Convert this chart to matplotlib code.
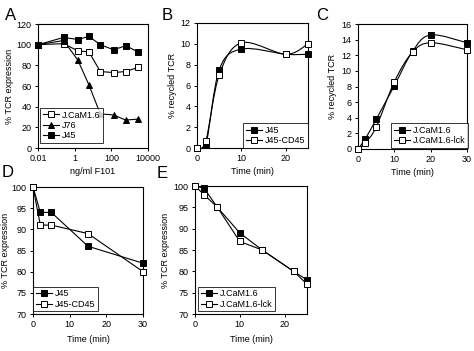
import matplotlib
matplotlib.use("Agg")
import matplotlib.pyplot as plt
import numpy as np
from matplotlib.path import Path
from matplotlib.patches import PathPatch
from matplotlib.lines import Line2D

plt.rcParams['font.family'] = ['Liberation Sans', 'DejaVu Sans']
plt.rcParams['font.size'] = 6.5

# ---------------- data ----------------
# Panel A
a_x = [0.01, 0.25, 1.5, 6, 25, 135, 600, 2900]
a_jcam = [100, 101, 94, 93, 74, 73, 74, 78]
a_j76 = [100, 104, 85, 61, 33, 32, 27, 28]
a_j45 = [100, 107, 105, 108, 100, 95, 99, 93]
a_xticks = [0.01, 1, 100, 10000]
a_xticklabels = ["0.01", "1", "100", "10000"]

# Panel B
b_x = [0, 2, 5, 10, 20, 25]
b_j45 = [0, 0.3, 7.5, 9.5, 9.0, 9.0]
b_j45cd45 = [0, 0.7, 7.0, 10.1, 9.0, 10.0]

# Panel C
c_x = [0, 2, 5, 10, 15, 20, 30]
c_jcam = [0, 1.3, 3.8, 8.1, 12.5, 14.6, 13.6]
c_jcamlck = [0, 0.8, 2.8, 8.6, 12.4, 13.6, 12.7]

# Panel D
d_x = [0, 2, 5, 15, 30]
d_j45 = [100, 94, 94, 86, 82]
d_j45cd45 = [100, 91, 91, 89, 80]

# Panel E
e_x = [0, 2, 5, 10, 15, 22, 25]
e_jcam = [100, 99.5, 95, 89, 85, 80, 78]
e_jcamlck = [100, 98, 95, 87, 85, 80, 77]

W, H = 474, 351
fig = plt.figure(figsize=(W / 100, H / 100), dpi=100)


def add_ax(l, r, t, b):
    return fig.add_axes([l / W, 1 - b / H, (r - l) / W, (b - t) / H])


MS = 4.6
LW = 0.8


def style(ax):
    for s in ax.spines.values():
        s.set_linewidth(0.8)
        s.set_color('black')
    ax.tick_params(direction='out', length=2.5, width=0.7, labelsize=6.5,
                   pad=2, top=False, right=False)


def smooth_line(ax, x, y):
    x = np.asarray(x, float)
    y = np.asarray(y, float)
    pts = np.column_stack([x, y])
    n = len(pts)
    verts = [pts[0]]
    codes = [Path.MOVETO]
    for i in range(n - 1):
        p0 = pts[i - 1] if i > 0 else pts[i]
        p1 = pts[i]
        p2 = pts[i + 1]
        p3 = pts[i + 2] if i + 2 < n else pts[i + 1]
        c1 = p1 + (p2 - p0) / 6.0
        c2 = p2 - (p3 - p1) / 6.0
        verts += [c1, c2, p2]
        codes += [Path.CURVE4] * 3
    patch = PathPatch(Path(verts, codes), facecolor='none', edgecolor='black',
                      lw=LW, zorder=2)
    ax.add_patch(patch)


def markers(ax, x, y, filled, marker='s'):
    ax.plot(x, y, linestyle='none', marker=marker, ms=MS,
            mfc='black' if filled else 'white', mec='black', mew=0.7,
            zorder=3, clip_on=False)


def handle(filled, marker='s'):
    return Line2D([], [], color='black', lw=LW, marker=marker, ms=MS,
                  mfc='black' if filled else 'white', mec='black', mew=0.7)


def legend(ax, handles, labels, loc, anchor):
    lg = ax.legend(handles, labels, loc=loc, bbox_to_anchor=anchor,
                   fontsize=6.5, frameon=True, fancybox=False,
                   borderaxespad=0, handlelength=1.8, handletextpad=0.3,
                   borderpad=0.3, labelspacing=0.15)
    lg.get_frame().set_edgecolor('black')
    lg.get_frame().set_linewidth(0.7)
    return lg


# ---------------- Panel A ----------------
axA = add_ax(38, 148, 24, 148)
style(axA)
axA.set_xscale('log')
axA.plot(a_x, a_jcam, color='black', lw=LW, zorder=2)
axA.plot(a_x, a_j76, color='black', lw=LW, zorder=2)
axA.plot(a_x, a_j45, color='black', lw=LW, zorder=2)
markers(axA, a_x, a_jcam, False)
markers(axA, a_x, a_j76, True, '^')
markers(axA, a_x, a_j45, True)
axA.set_xlim(0.01, 10000)
axA.set_ylim(0, 120)
axA.set_yticks(range(0, 121, 20))
axA.set_xticks(a_xticks)
axA.set_xticklabels(a_xticklabels)
axA.minorticks_off()
axA.set_ylabel('% TCR expression', labelpad=2)
axA.set_xlabel('ng/ml F101', labelpad=3)
legend(axA, [handle(False), handle(True, '^'), handle(True)],
       ['J.CaM1.6', 'J76', 'J45'], 'lower left', (0.02, 0.04))

# ---------------- Panel B ----------------
axB = add_ax(197, 308, 23, 148)
style(axB)
smooth_line(axB, b_x, b_j45)
smooth_line(axB, b_x, b_j45cd45)
markers(axB, b_x, b_j45, True)
markers(axB, b_x, b_j45cd45, False)
axB.set_xlim(0, 25)
axB.set_ylim(0, 12)
axB.set_xticks([0, 10, 20])
axB.set_yticks(range(0, 13, 2))
axB.set_ylabel('% recycled TCR', labelpad=3)
axB.set_xlabel('Time (min)', labelpad=3)
legend(axB, [handle(True), handle(False)], ['J45', 'J45-CD45'],
       'lower right', (1, 0))

# ---------------- Panel C ----------------
axC = add_ax(358, 467, 24, 149)
style(axC)
smooth_line(axC, c_x, c_jcam)
smooth_line(axC, c_x, c_jcamlck)
markers(axC, c_x, c_jcam, True)
markers(axC, c_x, c_jcamlck, False)
axC.set_xlim(0, 30)
axC.set_ylim(0, 16)
axC.set_xticks([0, 10, 20, 30])
axC.set_yticks(range(0, 17, 2))
axC.set_ylabel('% recycled TCR', labelpad=3)
axC.set_xlabel('Time (min)', labelpad=3)
legend(axC, [handle(True), handle(False)], ['J.CaM1.6', 'J.CaM1.6-lck'],
       'lower right', (1.01, 0.01))

# ---------------- Panel D ----------------
axD = add_ax(33, 143, 187, 314)
style(axD)
axD.plot(d_x, d_j45, color='black', lw=LW, zorder=2)
axD.plot(d_x, d_j45cd45, color='black', lw=LW, zorder=2)
markers(axD, d_x, d_j45, True)
markers(axD, d_x, d_j45cd45, False)
axD.set_xlim(0, 30)
axD.set_ylim(70, 100)
axD.set_xticks([0, 10, 20, 30])
axD.set_yticks(range(70, 101, 5))
axD.set_ylabel('% TCR expression', labelpad=1)
axD.set_xlabel('Time (min)', labelpad=4)
legend(axD, [handle(True), handle(False)], ['J45', 'J45-CD45'],
       'lower left', (0.0, 0.02))

# ---------------- Panel E ----------------
axE = add_ax(195, 307, 186, 314)
style(axE)
axE.plot(e_x, e_jcam, color='black', lw=LW, zorder=2)
axE.plot(e_x, e_jcamlck, color='black', lw=LW, zorder=2)
markers(axE, e_x, e_jcam, True)
markers(axE, e_x, e_jcamlck, False)
axE.set_xlim(0, 25)
axE.set_ylim(70, 100)
axE.set_xticks([0, 10, 20])
axE.set_yticks(range(70, 101, 5))
axE.set_ylabel('% TCR expression', labelpad=3)
axE.set_xlabel('Time (min)', labelpad=4)
legend(axE, [handle(True), handle(False)], ['J.CaM1.6', 'J.CaM1.6-lck'],
       'lower left', (0.025, 0.02))

# ---------------- Panel letters ----------------
for letter, (px, py) in {'A': (5, 20), 'B': (162, 20), 'C': (316, 20),
                         'D': (2, 177), 'E': (157, 178)}.items():
    fig.text(px / W, 1 - py / H, letter, fontsize=12, ha='left', va='baseline')

fig.savefig('out.png', dpi=100)
